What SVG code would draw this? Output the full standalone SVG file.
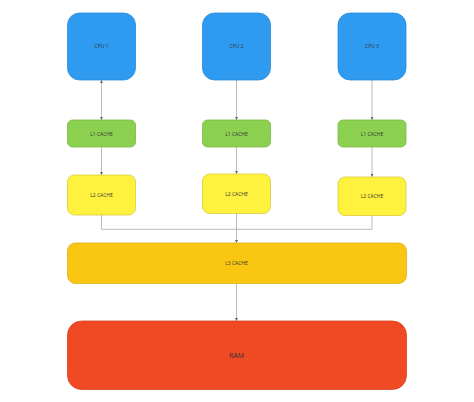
<svg xmlns="http://www.w3.org/2000/svg" width="474" height="402" viewBox="0 0 474 402">
<defs>
<style>
.cpu{fill:#2f9bf0;stroke:#2a8bd8;stroke-width:0.8}
.l1{fill:#8bd14f;stroke:#79b946;stroke-width:0.8}
.l2{fill:#fff23f;stroke:#d8cc3a;stroke-width:0.8}
.l3{fill:#f9c612;stroke:#ddb020;stroke-width:0.8}
.ram{fill:#f04a24;stroke:#d84222;stroke-width:0.8}
.t{font-family:"Open Sans","Noto Sans",sans-serif;font-size:5px;fill:#333;text-anchor:middle;dominant-baseline:central}
.tr{font-size:7px}
.c{fill:none;stroke:#a8a8a8;stroke-width:0.8}
</style>
<marker id="a" viewBox="0 0 4 4" refX="4" refY="2" markerWidth="3" markerHeight="3" orient="auto-start-reverse" markerUnits="userSpaceOnUse">
<path d="M0,0L4,2L0,4z" fill="#666"/>
</marker>
</defs>
<rect width="474" height="402" fill="#ffffff"/>
<g id="connectors">
<path class="c" d="M101.5,80V120" marker-start="url(#a)" marker-end="url(#a)"/>
<path class="c" d="M236.5,80V120" marker-end="url(#a)"/>
<path class="c" d="M372,80V120" marker-end="url(#a)"/>
<path class="c" d="M101.5,147V175" marker-end="url(#a)"/>
<path class="c" d="M236.5,147V174" marker-end="url(#a)"/>
<path class="c" d="M372,147V177" marker-end="url(#a)"/>
<path class="c" d="M101.5,215V229.3H372V215"/>
<path class="c" d="M236.5,213V243" marker-end="url(#a)"/>
<path class="c" d="M236.5,283.5V321" marker-end="url(#a)"/>
</g>
<g id="cpu1"><rect class="cpu" x="67.5" y="13" width="68" height="67" rx="12"/><text class="t" x="101.5" y="46">CPU 1</text></g>
<g id="cpu2"><rect class="cpu" x="202.5" y="13" width="68" height="67" rx="12"/><text class="t" x="236.5" y="46">CPU 2</text></g>
<g id="cpu3"><rect class="cpu" x="338" y="13" width="68" height="67" rx="12"/><text class="t" x="372" y="46">CPU 3</text></g>
<g id="l1a"><rect class="l1" x="67.5" y="120" width="68" height="27" rx="5"/><text class="t" x="101.5" y="133.5">L1 CACHE</text></g>
<g id="l1b"><rect class="l1" x="202.5" y="120" width="68" height="27" rx="5"/><text class="t" x="236.5" y="133.5">L1 CACHE</text></g>
<g id="l1c"><rect class="l1" x="338" y="120" width="68" height="27" rx="5"/><text class="t" x="372" y="133.5">L1 CACHE</text></g>
<g id="l2a"><rect class="l2" x="67.5" y="175" width="68" height="40" rx="7"/><text class="t" x="101.5" y="195">L2 CACHE</text></g>
<g id="l2b"><rect class="l2" x="202.5" y="174" width="68" height="39.5" rx="7"/><text class="t" x="236.5" y="193.5">L2 CACHE</text></g>
<g id="l2c"><rect class="l2" x="338" y="177" width="68" height="38.5" rx="7"/><text class="t" x="372" y="196">L2 CACHE</text></g>
<g id="l3"><rect class="l3" x="67.5" y="243" width="339" height="40.5" rx="8"/><text class="t" x="236.5" y="262.5">L3 CACHE</text></g>
<g id="ram"><rect class="ram" x="67.5" y="321" width="339" height="68.5" rx="14"/><text class="t tr" x="236.5" y="355">RAM</text></g>
</svg>
